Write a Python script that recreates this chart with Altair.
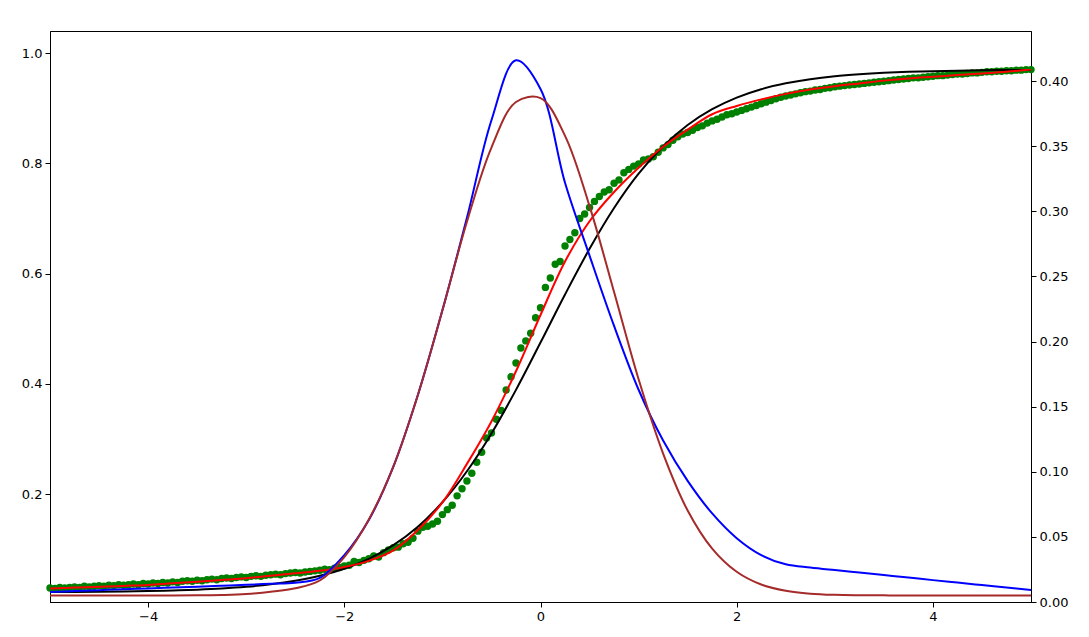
import altair as alt
import pandas as pd

# x grid for the smooth curves
CURVE_X = [-5.0, -4.75, -4.5, -4.25, -4.0, -3.75, -3.5, -3.25, -3.0, -2.75,
           -2.5, -2.25, -2.0, -1.75, -1.5, -1.25, -1.0, -0.75, -0.5, -0.25,
           0.0, 0.25, 0.5, 0.75, 1.0, 1.25, 1.5, 1.75, 2.0, 2.25,
           2.5, 2.75, 3.0, 3.25, 3.5, 3.75, 4.0, 4.25, 4.5, 4.75, 5.0]

# left axis curves
BLACK = [0.0226, 0.0228, 0.0231, 0.0236, 0.0243, 0.0254, 0.0269, 0.0290, 0.0321, 0.0366,
         0.0430, 0.0520, 0.0649, 0.0828, 0.1076, 0.1410, 0.1854, 0.2416, 0.3101, 0.3892,
         0.4750, 0.5622, 0.6450, 0.7190, 0.7812, 0.8309, 0.8694, 0.8981, 0.9192, 0.9344,
         0.9451, 0.9527, 0.9580, 0.9616, 0.9642, 0.9660, 0.9672, 0.9681, 0.9687, 0.9691, 0.9693]

RED = [0.029, 0.0306, 0.032, 0.0337, 0.0354, 0.0383, 0.041, 0.0443, 0.0475, 0.052,
       0.0566, 0.061, 0.068, 0.079, 0.098, 0.135, 0.185, 0.255, 0.332, 0.423,
       0.525, 0.622, 0.695, 0.748, 0.792, 0.830, 0.861, 0.889, 0.904, 0.916,
       0.926, 0.934, 0.940, 0.945, 0.950, 0.954, 0.957, 0.960, 0.963, 0.966, 0.970]

# right axis curves
BLUE = [0.0077, 0.0084, 0.0091, 0.0098, 0.0104, 0.0111, 0.0118, 0.0125, 0.0132, 0.0140,
        0.0148, 0.0185, 0.036, 0.063, 0.104, 0.159, 0.224, 0.295, 0.370, 0.416,
        0.394, 0.322, 0.266, 0.212, 0.163, 0.124, 0.093, 0.068, 0.049, 0.036,
        0.029, 0.0265, 0.0245, 0.0226, 0.0207, 0.0188, 0.0168, 0.0149, 0.0130, 0.0111, 0.0092]

BROWN = [0.005, 0.005, 0.005, 0.005, 0.005, 0.005, 0.0051, 0.0054, 0.0061, 0.0078,
         0.0105, 0.0165, 0.0345, 0.0634, 0.104, 0.159, 0.224, 0.292, 0.349, 0.384,
         0.387, 0.358, 0.304, 0.238, 0.171, 0.114, 0.0703, 0.041, 0.0232, 0.0134,
         0.0086, 0.0064, 0.0055, 0.0052, 0.0051, 0.005, 0.005, 0.005, 0.005, 0.005, 0.005]

# scattered observations (left axis), x step 0.05 from -5 to 5
DATA_X = [round(-5 + 0.05 * i, 2) for i in range(201)]
DATA_Y = [
    0.030, 0.029, 0.031, 0.030, 0.031, 0.032, 0.031, 0.033, 0.032, 0.033,
    0.034, 0.033, 0.035, 0.034, 0.036, 0.035, 0.036, 0.037, 0.036, 0.038,
    0.037, 0.039, 0.038, 0.040, 0.039, 0.041, 0.040, 0.042, 0.043, 0.042,
    0.044, 0.043, 0.045, 0.046, 0.045, 0.047, 0.048, 0.047, 0.049, 0.050,
    0.049, 0.051, 0.052, 0.051, 0.053, 0.054, 0.055, 0.054, 0.056, 0.057,
    0.058, 0.057, 0.059, 0.060, 0.061, 0.062, 0.064, 0.063, 0.066, 0.067,
    0.070, 0.071, 0.078, 0.076, 0.080, 0.083, 0.088, 0.086, 0.094, 0.099,
    0.103, 0.104, 0.110, 0.113, 0.120, 0.133, 0.140, 0.142, 0.146, 0.151,
    0.163, 0.172, 0.180, 0.197, 0.210, 0.224, 0.238, 0.258, 0.276, 0.302,
    0.311, 0.336, 0.352, 0.389, 0.413, 0.438, 0.465, 0.478, 0.492, 0.520,
    0.538, 0.575, 0.592, 0.617, 0.622, 0.650, 0.662, 0.674, 0.700, 0.708,
    0.720, 0.731, 0.740, 0.748, 0.752, 0.764, 0.770, 0.783, 0.789, 0.795,
    0.799, 0.806, 0.808, 0.812, 0.820, 0.828, 0.834, 0.842, 0.848, 0.853,
    0.856, 0.860, 0.865, 0.868, 0.873, 0.877, 0.880, 0.884, 0.888, 0.890,
    0.893, 0.896, 0.899, 0.902, 0.905, 0.908, 0.911, 0.914, 0.917, 0.920,
    0.922, 0.924, 0.926, 0.928, 0.930, 0.931, 0.933, 0.934, 0.936, 0.937,
    0.939, 0.940, 0.941, 0.942, 0.943, 0.944, 0.945, 0.946, 0.947, 0.948,
    0.949, 0.950, 0.951, 0.952, 0.953, 0.954, 0.955, 0.955, 0.956, 0.957,
    0.958, 0.959, 0.959, 0.960, 0.961, 0.962, 0.962, 0.963, 0.964, 0.964,
    0.965, 0.966, 0.966, 0.967, 0.967, 0.968, 0.968, 0.969, 0.969, 0.970,
    0.970,
]

LEFT_TICKS = [0.2, 0.4, 0.6, 0.8, 1.0]
RIGHT_TICKS = [0.0, 0.05, 0.10, 0.15, 0.20, 0.25, 0.30, 0.35, 0.40]
X_TICKS = [-4, -2, 0, 2, 4]

xscale = alt.Scale(domain=[-5, 5], nice=False, zero=False)
lscale = alt.Scale(domain=[0.0045, 1.04], nice=False, zero=False)
rscale = alt.Scale(domain=[0, 0.4385], nice=False, zero=False)

x_axis = alt.Axis(values=X_TICKS, format="d", title=None)
l_axis = alt.Axis(values=LEFT_TICKS, format=".1f", title=None, orient="left")
r_axis = alt.Axis(values=RIGHT_TICKS, format=".2f", title=None, orient="right")

pts = pd.DataFrame({"x": DATA_X, "y": DATA_Y})
cur = pd.DataFrame({"x": CURVE_X, "black": BLACK, "red": RED, "blue": BLUE, "brown": BROWN})

green = alt.Chart(pts).mark_circle(size=55, color="green", opacity=1).encode(
    x=alt.X("x:Q", scale=xscale, axis=x_axis),
    y=alt.Y("y:Q", scale=lscale, axis=l_axis),
)


def line(field, color, yscale, yaxis):
    return alt.Chart(cur).mark_line(color=color, strokeWidth=2, interpolate="catmull-rom").encode(
        x=alt.X("x:Q", scale=xscale, axis=x_axis),
        y=alt.Y(f"{field}:Q", scale=yscale, axis=yaxis),
    )


left = alt.layer(green, line("black", "black", lscale, l_axis), line("red", "red", lscale, l_axis))
right = alt.layer(line("blue", "blue", rscale, r_axis), line("brown", "#a52a2a", rscale, r_axis))

chart = alt.layer(left, right).resolve_scale(y="independent").properties(
    width=981,
    height=571,
    padding={"left": 42, "top": 23, "right": 40, "bottom": 20},
    autosize=alt.AutoSizeParams(type="none"),
).configure_view(stroke="black", strokeWidth=1).configure_axis(
    grid=False,
    domainColor="black",
    tickColor="black",
    tickSize=5,
    labelColor="black",
    labelFont="DejaVu Sans",
    labelFontSize=13,
    labelPadding=3,
)

chart.save("out.html", embed_options={"renderer": "svg", "actions": False})
